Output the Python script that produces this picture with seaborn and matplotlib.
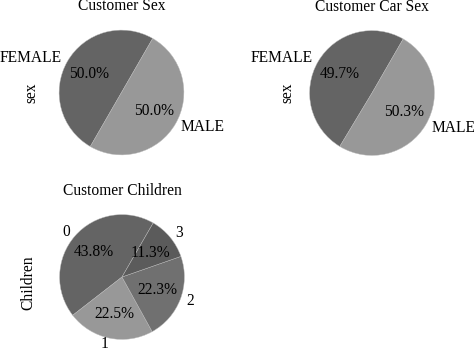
import matplotlib
matplotlib.use("Agg")
import matplotlib.pyplot as plt
import seaborn as sns

sns.set_theme(style="white")
plt.rcParams['font.family'] = ['Liberation Serif', 'DejaVu Serif']
plt.rcParams['text.color'] = 'black'
plt.rcParams['axes.labelcolor'] = 'black'

# Data
sex_labels = ["FEMALE", "MALE"]
sex_values = [50.0, 50.0]
car_sex_labels = ["FEMALE", "MALE"]
car_sex_values = [49.7, 50.3]
children_labels = ["0", "1", "2", "3"]
children_values = [43.8, 22.5, 22.3, 11.3]

titles = ["Customer Sex", "Customer Car Sex", "Customer Children"]
ylabels = ["sex", "sex", "Children"]

# grayscale versions of the default palette
gray_colors = ["#646464", "#989898", "#707070", "#5b5b5b"]

W, H = 474, 351
fig = plt.figure(figsize=(W / 100, H / 100), dpi=100)

box = 156  # px, axes square size (pie radius = box/2.5)

def add_ax(cx, cy):
    left = (cx - box / 2) / W
    bottom = (H - (cy + box / 2)) / H
    return fig.add_axes([left, bottom, box / W, box / H])

specs = [
    (121.5, 92.5, sex_labels, sex_values, -0.026, 0.5),
    (372.0, 93.0, car_sex_labels, car_sex_values, 0.006, 0.5),
    (122.0, 277.0, children_labels, children_values, -0.048, 0.465),
]

fs = 11.2
for i, (cx, cy, labels, values, lx, ly) in enumerate(specs):
    ax = add_ax(cx, cy)
    ax.pie(values, labels=labels, autopct='%1.1f%%', startangle=60,
           colors=gray_colors[:len(values)],
           wedgeprops=dict(edgecolor='#bbbbbb', linewidth=0.3),
           textprops=dict(fontsize=fs, color='black'))
    ax.set_aspect('equal')
    ax.set_title(titles[i], fontsize=fs, pad=1.5, color='black')
    ax.set_ylabel(ylabels[i], fontsize=fs)
    ax.yaxis.set_label_coords(lx, ly)

fig.savefig("out.png", dpi=100)
